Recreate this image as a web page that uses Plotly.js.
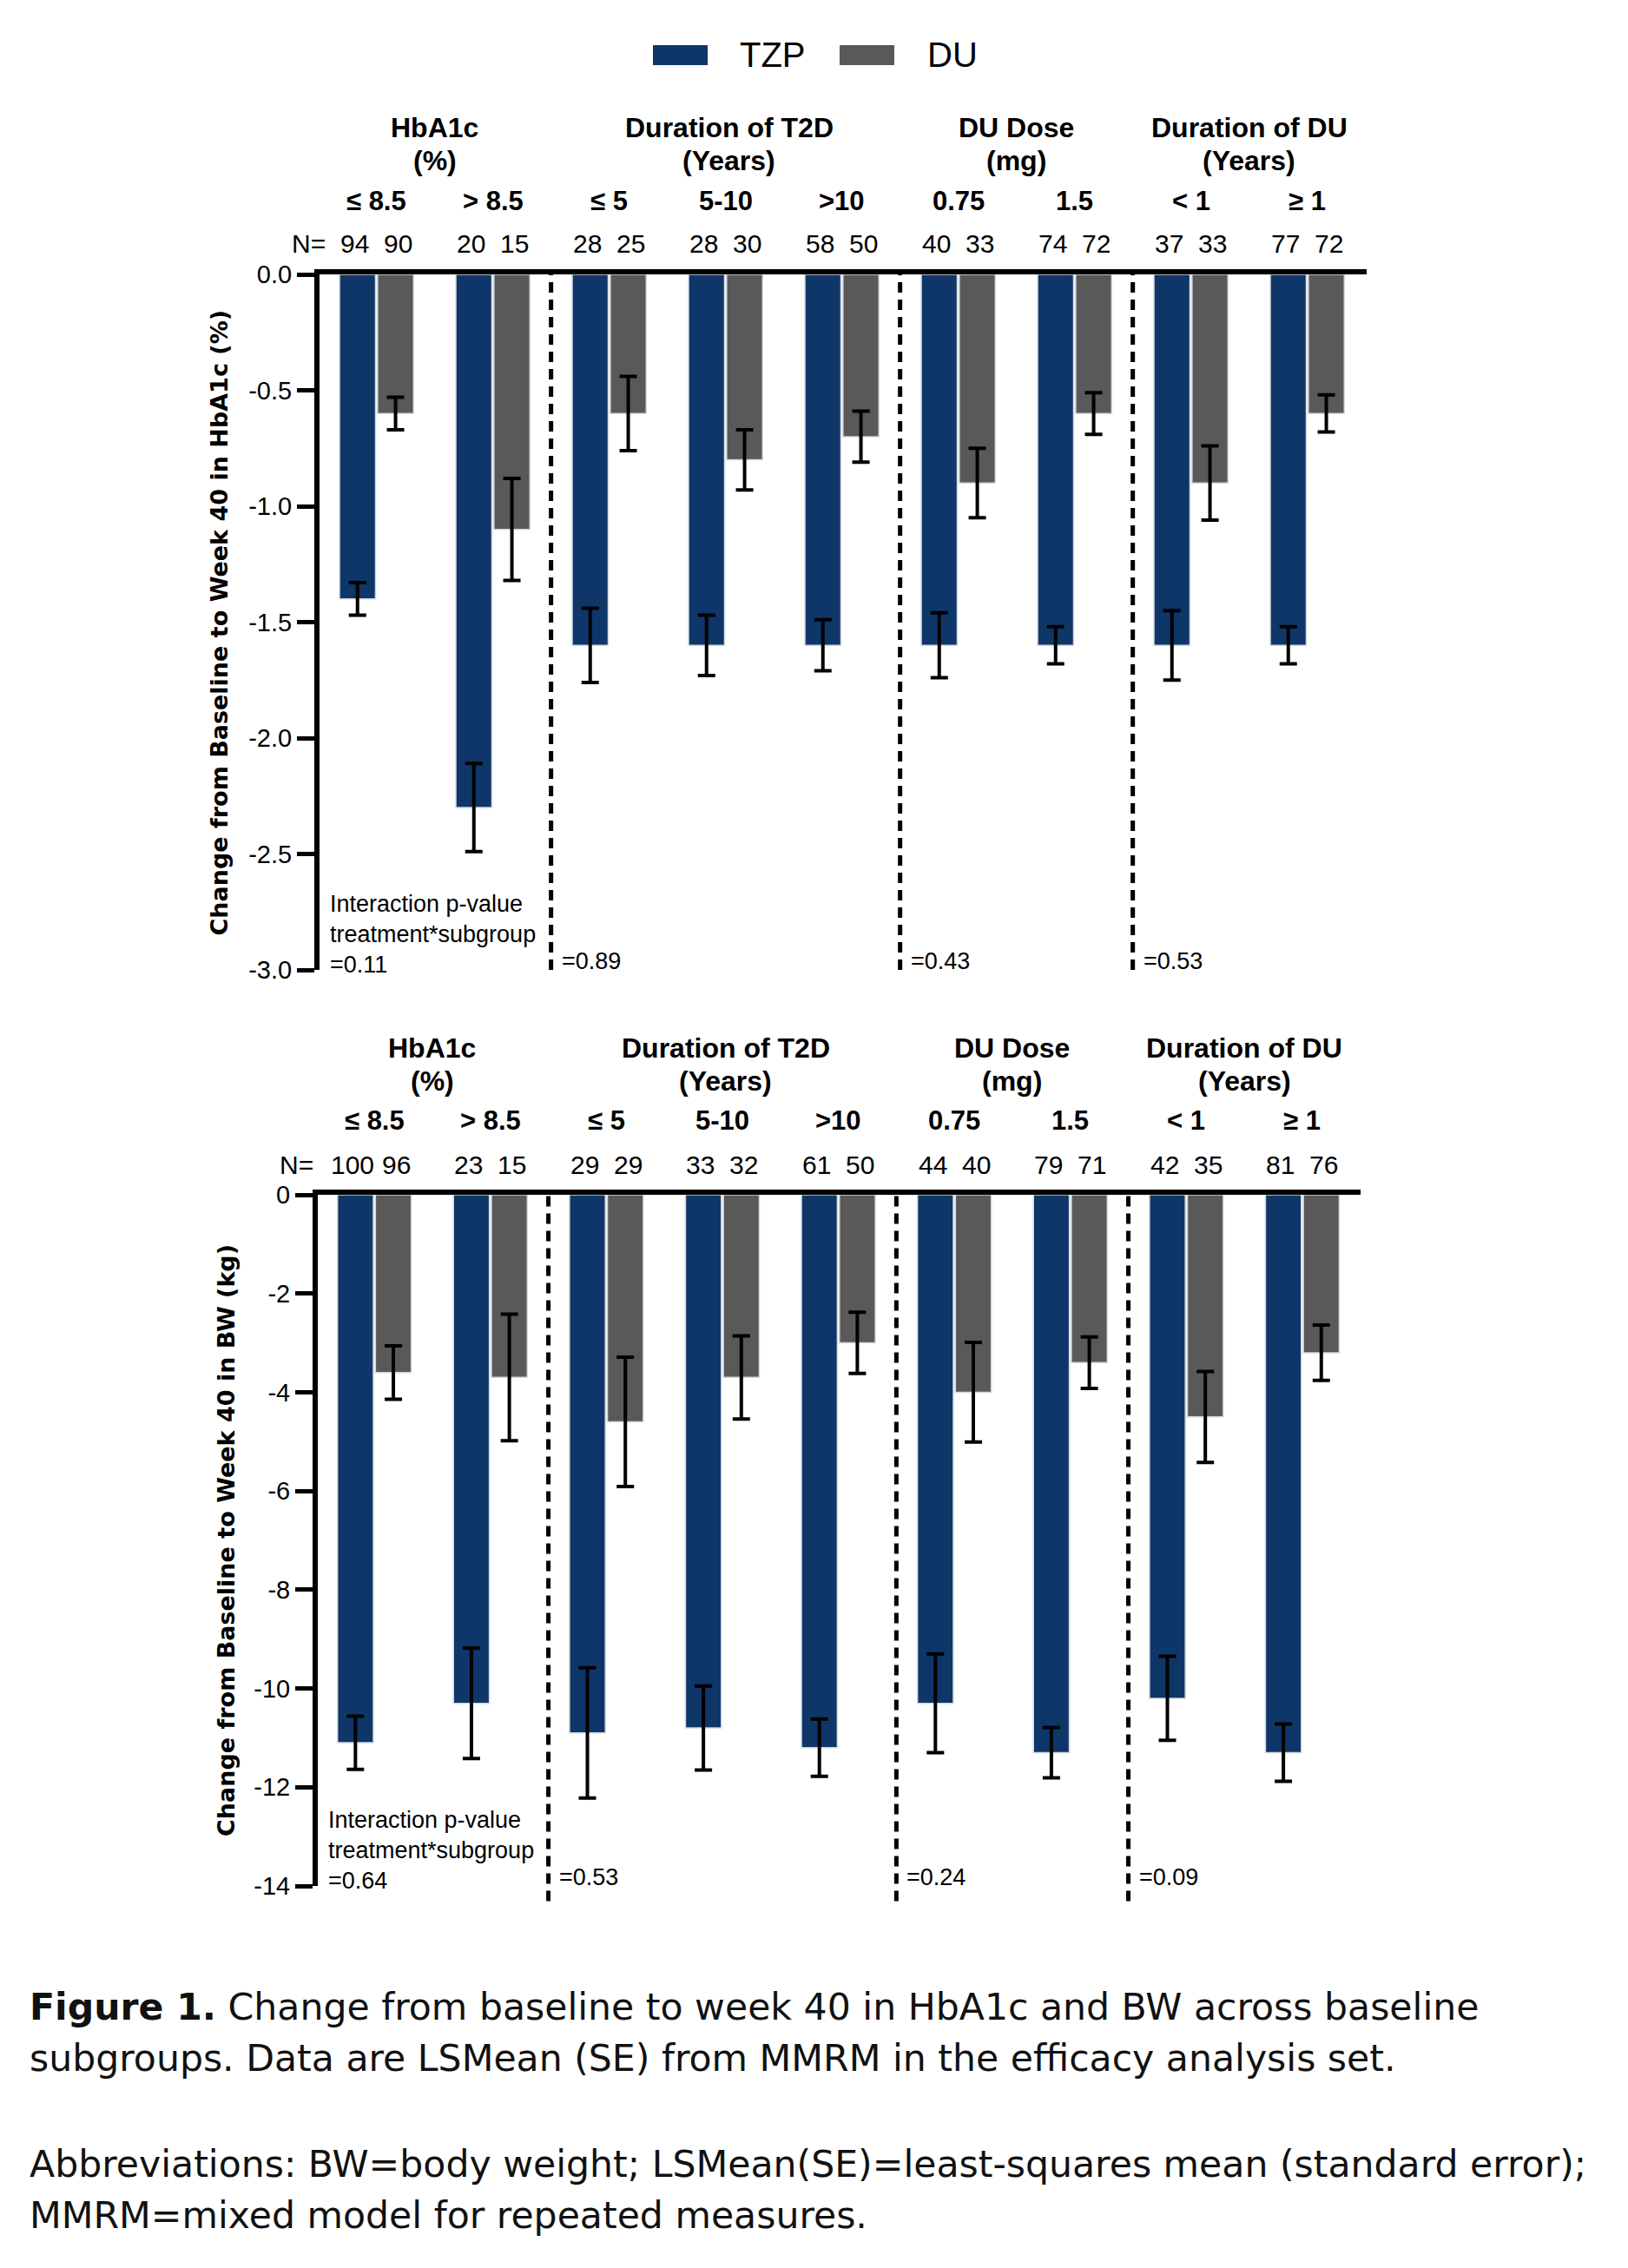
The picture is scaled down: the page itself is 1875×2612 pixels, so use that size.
<!DOCTYPE html>
<html>
<head>
<meta charset="utf-8">
<script src="https://cdn.plot.ly/plotly-3.0.1.min.js"></script>
<style>
    html, body { margin: 0; padding: 0; background: #fff; }
    #chart { width: 1875px; height: 2612px; }
</style>
</head>
<body>
<div id="chart"></div>
<script>

// subgroups, same order in both panels
const subgroups = [ '≤ 8.5', '> 8.5', '≤ 5', '5-10', '>10', '0.75', '1.5', '< 1', '≥ 1' ];
const groupTitles = [ 'HbA1c', 'Duration of T2D', 'DU Dose', 'Duration of DU' ];
const groupUnits = [ '(%)', '(Years)', '(mg)', '(Years)' ];
const groupSpans = [ [ 0, 1 ], [ 2, 4 ], [ 5, 6 ], [ 7, 8 ] ];

// HbA1c panel, LSMean (SE)
const hbaTzp = [ -1.4, -2.3, -1.6, -1.6, -1.6, -1.6, -1.6, -1.6, -1.6 ];
const hbaTzpSe = [ 0.07, 0.19, 0.16, 0.13, 0.11, 0.14, 0.08, 0.15, 0.08 ];
const hbaDu = [ -0.6, -1.1, -0.6, -0.8, -0.7, -0.9, -0.6, -0.9, -0.6 ];
const hbaDuSe = [ 0.07, 0.22, 0.16, 0.13, 0.11, 0.15, 0.09, 0.16, 0.08 ];
const hbaNTzp = [ 94, 20, 28, 28, 58, 40, 74, 37, 77 ];
const hbaNDu = [ 90, 15, 25, 30, 50, 33, 72, 33, 72 ];
const hbaPvalues = [ '0.11', '0.89', '0.43', '0.53' ];
const hbaTickVals = [ 0, -0.5, -1, -1.5, -2, -2.5, -3 ];
const hbaTickText = [ '0.0', '-0.5', '-1.0', '-1.5', '-2.0', '-2.5', '-3.0' ];

// body weight panel, LSMean (SE)
const bwTzp = [ -11.1, -10.3, -10.9, -10.8, -11.2, -10.3, -11.3, -10.2, -11.3 ];
const bwTzpSe = [ 0.54, 1.12, 1.32, 0.85, 0.58, 1.0, 0.51, 0.85, 0.58 ];
const bwDu = [ -3.6, -3.7, -4.6, -3.7, -3.0, -4.0, -3.4, -4.5, -3.2 ];
const bwDuSe = [ 0.54, 1.28, 1.31, 0.84, 0.62, 1.01, 0.52, 0.92, 0.56 ];
const bwNTzp = [ 100, 23, 29, 33, 61, 44, 79, 42, 81 ];
const bwNDu = [ 96, 15, 29, 32, 50, 40, 71, 35, 76 ];
const bwPvalues = [ '0.64', '0.53', '0.24', '0.09' ];
const bwTickVals = [ 0, -2, -4, -6, -8, -10, -12, -14 ];
const bwTickText = [ '0', '-2', '-4', '-6', '-8', '-10', '-12', '-14' ];

const captionLines = [
    '<b>Figure 1.</b> Change from baseline to week 40 in HbA1c and BW across baseline',
    'subgroups. Data are LSMean (SE) from MMRM in the efficacy analysis set.',
    'Abbreviations: BW=body weight; LSMean(SE)=least-squares mean (standard error);',
    'MMRM=mixed model for repeated measures.'
];

const W = 1875, H = 2612;
const px = v => v / W;
const py = v => 1 - v / H;
const esc = s => s.replace( /</g, '&lt;' ).replace( />/g, '&gt;' );

const TZP_COLOR = '#0e3669';
const DU_COLOR = '#595959';
const FONT = 'Arial, "Liberation Sans", sans-serif';

const traces = [];
const shapes = [];
const annotations = [];
const layout = {
    width: W,
    height: H,
    margin: { l: 0, r: 0, t: 0, b: 0 },
    paper_bgcolor: '#fff',
    plot_bgcolor: 'rgba(0,0,0,0)',
    font: { family: FONT, color: '#000' },
    barmode: 'group',
    bargap: 0.346,
    bargroupgap: 0.054,
    showlegend: false,
    shapes: shapes,
    annotations: annotations
};

// text helper: paper refs use 'auto' anchors otherwise, so pin them
function note( a ) {
    annotations.push( Object.assign( {
        xref: 'paper', yref: 'paper', xanchor: 'center', yanchor: 'middle', showarrow: false
    }, a ) );
}

function panel( p ) {

    const xa = 'x' + p.n, ya = 'y' + p.n;

    //bars
    traces.push( {
        type: 'bar', name: 'TZP', x: subgroups, y: p.tzp, xaxis: xa, yaxis: ya,
        marker: { color: TZP_COLOR, line: { color: '#d3d8df', width: 1.5 } },
        error_y: { type: 'data', array: p.tzpSe, visible: true, color: '#000', thickness: 4, width: 10 }
    } );
    traces.push( {
        type: 'bar', name: 'DU', x: subgroups, y: p.du, xaxis: xa, yaxis: ya,
        marker: { color: DU_COLOR, line: { color: '#d3d8df', width: 1.5 } },
        error_y: { type: 'data', array: p.duSe, visible: true, color: '#000', thickness: 4, width: 10 }
    } );

    //axes
    layout[ 'xaxis' + p.n ] = {
        domain: [ px( p.left ), px( p.right ) ],
        range: p.xrange,
        type: 'category',
        anchor: ya,
        side: 'top',
        showline: true, linewidth: 6, linecolor: '#000',
        ticks: '', showticklabels: false,
        showgrid: false, zeroline: false, fixedrange: true
    };
    layout[ 'yaxis' + p.n ] = {
        domain: [ py( p.bottom ), py( p.top ) ],
        range: [ p.tickVals[ p.tickVals.length - 1 ], 0 ],
        anchor: xa,
        showline: true, linewidth: 6, linecolor: '#000',
        ticks: 'outside', ticklen: 20, tickwidth: 5, tickcolor: '#000',
        tickvals: p.tickVals, ticktext: p.tickText,
        tickfont: { size: 29, color: '#000' },
        showgrid: false, zeroline: false, fixedrange: true
    };

    //y title
    note( {
        x: px( p.titleX ), y: py( ( p.top + p.bottom ) / 2 ),
        text: p.yTitle, textangle: -90,
        font: { family: '"DejaVu Sans", sans-serif', size: 27, weight: 'bold' }
    } );

    //group headers and dividers
    groupSpans.forEach( ( s, g ) => {

        const cx = ( s[ 0 ] + s[ 1 ] ) / 2 + ( g === 1 ? 0.03 : 0 );
        note( { xref: xa, x: cx, y: py( p.top - 169 ), text: groupTitles[ g ], font: { size: 32, weight: 'bold' } } );
        note( { xref: xa, x: cx, y: py( p.top - 131 ), text: groupUnits[ g ], font: { size: 32, weight: 'bold' } } );

        if ( g > 0 ) {
            const dx = s[ 0 ] - 0.5;
            shapes.push( {
                type: 'line', xref: xa, yref: ya + ' domain', x0: dx, x1: dx, y0: p.dashBelow, y1: 1,
                line: { color: '#000', width: 5, dash: '12px,8px' }
            } );
            note( {
                xref: xa, x: dx, xshift: 10, xanchor: 'left', y: py( p.bottom - 10 ),
                text: '=' + p.pvalues[ g ], font: { size: 27 }
            } );
        }

    } );

    note( {
        x: px( p.left + 10 ), xanchor: 'left', y: py( p.bottom - 41 ),
        text: 'Interaction p-value<br>treatment*subgroup<br>=' + p.pvalues[ 0 ],
        align: 'left', font: { size: 27 }
    } );

    //subgroup labels and N
    subgroups.forEach( ( s, i ) => {
        note( { xref: xa, x: i, y: py( p.top - 85 ), text: esc( s ), font: { size: 31, weight: 'bold' } } );
        note( { xref: xa, x: i, xshift: -25, y: py( p.top - 35 ), text: String( p.nTzp[ i ] ), font: { size: 30 } } );
        note( { xref: xa, x: i, xshift: 25, y: py( p.top - 35 ), text: String( p.nDu[ i ] ), font: { size: 30 } } );
    } );
    note( { x: px( p.nLabelRight ), xanchor: 'right', y: py( p.top - 35 ), text: 'N=', font: { size: 30 } } );

}

panel( {
    n: '', left: 368, right: 1574, top: 316, bottom: 1117, xrange: [ -0.49, 8.51 ],
    tzp: hbaTzp, tzpSe: hbaTzpSe, du: hbaDu, duSe: hbaDuSe,
    nTzp: hbaNTzp, nDu: hbaNDu, pvalues: hbaPvalues,
    tickVals: hbaTickVals, tickText: hbaTickText,
    yTitle: 'Change from Baseline to Week 40 in HbA1c (%)', titleX: 252,
    nLabelRight: 377, dashBelow: 0
} );

panel( {
    n: '2', left: 366, right: 1567, top: 1376, bottom: 2172, xrange: [ -0.488, 8.502 ],
    tzp: bwTzp, tzpSe: bwTzpSe, du: bwDu, duSe: bwDuSe,
    nTzp: bwNTzp, nDu: bwNDu, pvalues: bwPvalues,
    tickVals: bwTickVals, tickText: bwTickText,
    yTitle: 'Change from Baseline to Week 40 in BW (kg)', titleX: 260,
    nLabelRight: 363, dashBelow: -0.022
} );

//legend
[ [ 'TZP', TZP_COLOR, 752, 850 ], [ 'DU', DU_COLOR, 967, 1066 ] ].forEach( ( l ) => {
    shapes.push( {
        type: 'rect', xref: 'paper', yref: 'paper',
        x0: px( l[ 2 ] ), x1: px( l[ 2 ] + 63 ), y0: py( 75 ), y1: py( 52 ),
        fillcolor: l[ 1 ], line: { width: 0 }
    } );
    note( { x: px( l[ 3 ] ), xanchor: 'left', y: py( 63 ), text: l[ 0 ], font: { size: 40 } } );
} );

//caption
[ 2311, 2370, 2492, 2551 ].forEach( ( y, i ) => {
    note( {
        x: px( 32 ), xanchor: 'left', y: py( y ), text: captionLines[ i ],
        font: { family: '"DejaVu Sans", sans-serif', size: 42.6, color: '#111' }
    } );
} );

Plotly.newPlot( 'chart', traces, layout, { displayModeBar: false, staticPlot: true } );

</script>
</body>
</html>
